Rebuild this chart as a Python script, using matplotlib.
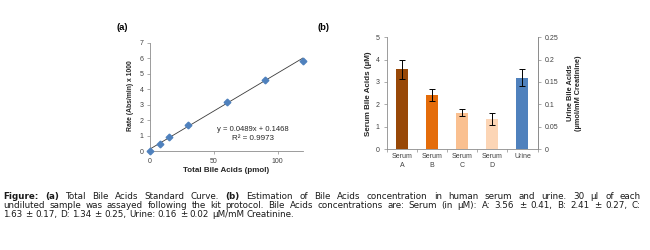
import matplotlib
matplotlib.use('Agg')
import matplotlib.pyplot as plt
import numpy as np

# ---------------- data ----------------
std_x = [0, 7.5, 15, 30, 60, 90, 120]
std_y = [0, 0.5, 0.9, 1.7, 3.2, 4.6, 5.85]
slope, intercept = 0.0489, 0.1468
eq_text = "y = 0.0489x + 0.1468"
r2_text = "R² = 0.9973"

samples = ['Serum\nA', 'Serum\nB', 'Serum\nC', 'Serum\nD', 'Urine']
serum_means = [3.56, 2.41, 1.63, 1.34]
serum_err = [0.41, 0.27, 0.17, 0.25]
urine_mean = [0.16]
urine_err = [0.02]
bar_colors = ['#984807', '#E46C0A', '#FAC090', '#FCD5B5', '#4F81BD']

a_xticks = [0, 50, 100]
a_yticks = [0, 1, 2, 3, 4, 5, 6, 7]
b_yticks = [0, 1, 2, 3, 4, 5]
b_y2ticks = [0, 0.05, 0.1, 0.15, 0.2, 0.25]
b_y2labels = ['0', '0.05', '0.1', '0.15', '0.2', '0.25']

caption = [
    "Figure: (a) Total Bile Acids Standard Curve. (b) Estimation of Bile Acids concentration in human serum and urine. 30 µl of each",
    "undiluted sample was assayed following the kit protocol. Bile Acids concentrations are: Serum (in µM): A: 3.56 ± 0.41, B: 2.41 ± 0.27, C:",
    "1.63 ± 0.17, D: 1.34 ± 0.25, Urine: 0.16 ± 0.02 µM/mM Creatinine.",
]
bold_words = {"Figure:", "(a)", "(b)"}

# ---------------- style ----------------
plt.rcParams['font.family'] = ['Liberation Sans', 'DejaVu Sans']
W, H = 650, 250
fig = plt.figure(figsize=(6.5, 2.5), dpi=100)
renderer = fig.canvas.get_renderer()

SP = '#8C8C8C'
TK = '#404040'
LB = '#262626'
FS_T = 5.0


def box(l, t, r, b):
    return [l / W, 1 - b / H, (r - l) / W, (b - t) / H]


def fx(x):
    return x / W


def fy(y):
    return 1 - y / H


def fit_text(cx, cy, s, target, rotated=False, base=6.0, **kw):
    t = fig.text(fx(cx), fy(cy), s, fontsize=base, ha='center', va='center',
                 rotation=90 if rotated else 0, **kw)
    bb = t.get_window_extent(renderer)
    size = bb.height if rotated else bb.width
    t.set_fontsize(base * target / size)
    return t


# ---------------- panel (a) ----------------
axa = fig.add_axes(box(150, 42.7, 303, 151.3))
xl = np.array([min(std_x), max(std_x)])
axa.plot(xl, slope * xl + intercept, color='#3a3a3a', lw=0.6, zorder=2)
axa.plot(std_x, std_y, 'D', color='#4F81BD', ms=3.4, mec='#4F81BD',
         clip_on=False, zorder=3)
axa.set_xlim(0, 120)
axa.set_ylim(0, 7)
axa.set_xticks(a_xticks)
axa.set_yticks(a_yticks)
for s in ['top', 'right']:
    axa.spines[s].set_visible(False)
for s in ['left', 'bottom']:
    axa.spines[s].set_color(SP)
    axa.spines[s].set_linewidth(0.6)
axa.tick_params(axis='both', length=2, width=0.5, color=SP, labelsize=FS_T,
                labelcolor=TK, pad=2.5)
axa.patch.set_alpha(0)

fit_text(252.5, 129.5, eq_text, 73, color=LB)
fit_text(252.5, 139, r2_text, 42, color=LB)
fit_text(131, 96, 'Rate (Abs/min) x 1000', 72, rotated=True, fontweight='bold', color=LB)
fit_text(226.3, 170.3, 'Total Bile Acids (pmol)', 87, fontweight='bold', color=LB)
fig.text(fx(122), fy(27), '(a)', ha='center', va='center', fontsize=6.8, fontweight='bold')

# ---------------- panel (b) ----------------
axb = fig.add_axes(box(387, 37.3, 537.5, 149))
pos = np.arange(len(samples))
axb.bar(pos[:4], serum_means, width=0.4, color=bar_colors[:4], zorder=2)
axb.errorbar(pos[:4], serum_means, yerr=serum_err, fmt='none', ecolor='black',
             elinewidth=0.7, capsize=2.3, capthick=0.7, zorder=3)
axb.set_xlim(-0.5, len(samples) - 0.5)
axb.set_ylim(0, 5)
axb.set_yticks(b_yticks)
axb.set_xticks(pos)
axb.set_xticklabels(samples, fontsize=FS_T, color=TK, linespacing=1.35)
axb.set_xticks(np.arange(-0.5, len(samples), 1.0), minor=True)
axb.tick_params(axis='x', which='major', length=0, pad=3)
axb.tick_params(axis='x', which='minor', length=2.5, width=0.5, color=SP)
axb.tick_params(axis='y', length=2.5, width=0.5, color=SP, labelsize=FS_T,
                labelcolor=TK, pad=3)
axb.spines['top'].set_visible(False)
for s in ['left', 'bottom', 'right']:
    axb.spines[s].set_color(SP)
    axb.spines[s].set_linewidth(0.6)

axb2 = axb.twinx()
axb2.bar(pos[4:], urine_mean, width=0.4, color=bar_colors[4], zorder=2)
axb2.errorbar(pos[4:], urine_mean, yerr=urine_err, fmt='none', ecolor='black',
              elinewidth=0.7, capsize=2.3, capthick=0.7, zorder=3)
axb2.set_ylim(0, 0.25)
axb2.set_yticks(b_y2ticks)
axb2.set_yticklabels(b_y2labels)
axb2.tick_params(axis='y', length=2.5, width=0.5, color=SP, labelsize=FS_T,
                 labelcolor=TK, pad=3)
for s in ['top', 'left', 'bottom']:
    axb2.spines[s].set_visible(False)
axb2.spines['right'].set_color(SP)
axb2.spines['right'].set_linewidth(0.6)

fit_text(368, 93.5, 'Serum Bile Acids (µM)', 85, rotated=True, fontweight='bold', color=LB)
fit_text(574, 93, 'Urine Bile Acids\n(µmol/mM Creatinine)', 77, rotated=True,
         fontweight='bold', color=LB, linespacing=1.2)
fig.text(fx(323), fy(27), '(b)', ha='center', va='center', fontsize=6.8, fontweight='bold')

# ---------------- caption (justified) ----------------
CAP_FAM = ['DejaVu Sans']
CAP_FS = 6.3
left_px, right_px = 3.0, 641.0
baselines = [198.8, 207.8, 216.8]
t1 = fig.text(0, 0, 'a a', fontsize=CAP_FS, family=CAP_FAM)
t2 = fig.text(0, 0, 'aa', fontsize=CAP_FS, family=CAP_FAM)
space_w = t1.get_window_extent(renderer).width - t2.get_window_extent(renderer).width
t1.remove()
t2.remove()
for li, line in enumerate(caption):
    words = line.split(' ')
    objs = []
    for w in words:
        t = fig.text(0, fy(baselines[li]), w, fontsize=CAP_FS, va='baseline', ha='left',
                     family=CAP_FAM,
                     fontweight='bold' if w in bold_words else 'normal', color='#1a1a1a')
        objs.append(t)
    widths = [t.get_window_extent(renderer).width for t in objs]
    if li < len(caption) - 1:
        gap = (right_px - left_px - sum(widths)) / (len(words) - 1)
    else:
        gap = space_w
    x = left_px
    for t, w in zip(objs, widths):
        t.set_x(fx(x))
        x += w + gap

fig.savefig('out.png', dpi=100)
